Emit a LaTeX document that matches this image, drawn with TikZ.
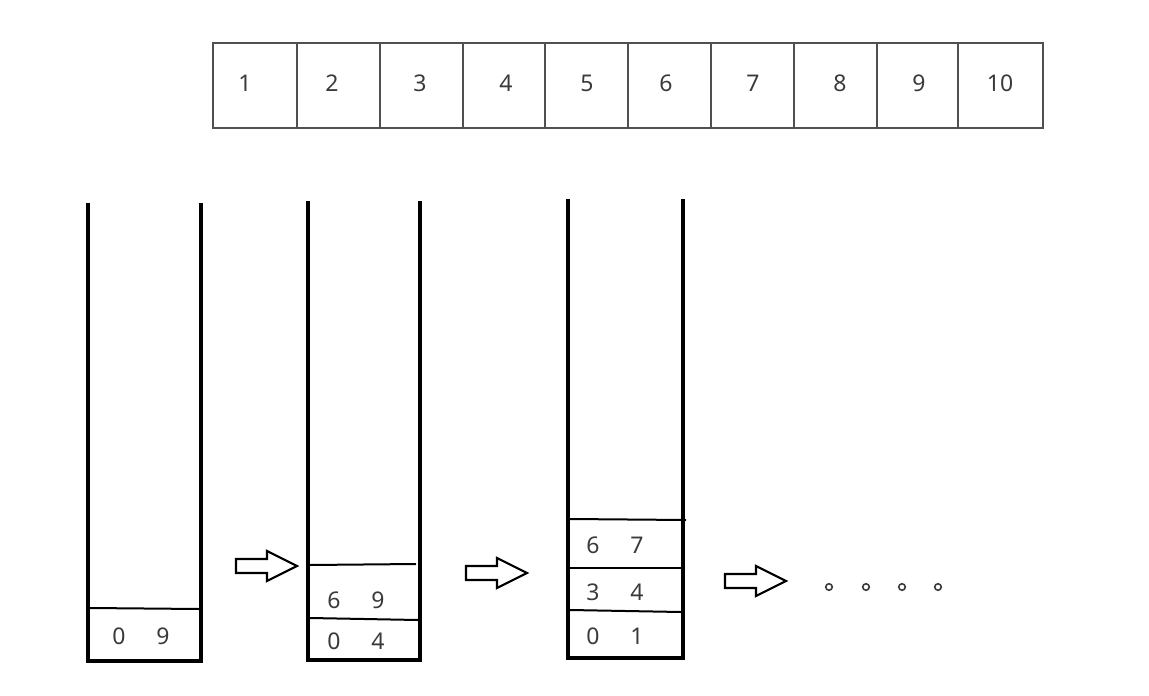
\documentclass[tikz,border=0pt]{standalone}
\usepackage{fontspec}
\setmainfont{Noto Sans}
\definecolor{txt}{HTML}{3A3A3A}
\definecolor{cellline}{HTML}{505050}
\begin{document}
\begin{tikzpicture}[x=1pt,y=-1pt,
  cellline/.style={draw=cellline,line width=2.4pt},
  wall/.style={line width=4pt,line cap=rect},
  sep/.style={line width=2pt},
  num/.style={font=\fontsize{23}{26}\selectfont,text=txt,inner sep=0pt},
  blockarrow/.style={draw,line width=2.2pt,fill=white,line join=miter},
  dotc/.style={draw=txt,line width=1.6pt,circle,minimum size=6.5pt,inner sep=0pt}]
\useasboundingbox (0,0) rectangle (1149,696);
% top array
\foreach \l/\r in {213/297,297/380,380/463,463/545,545/628,628/711,711/794,794/877,877/958,958/1043}{
  \draw[cellline] (\l,43) rectangle (\r,128);
}
\foreach \x/\t [count=\i] in {245/1,332/2,420/3,506/4,587/5,666/6,753/7,840/8,919/9,1000/10}{
  \node[num] (c\i) at (\x,83) {\t};
}
% stack 1
\draw[wall] (88,205) -- (88,661) -- (201,661) -- (201,205);
\draw[sep] (90,608) -- (199,609);
\node[num] (s1a) at (119,636) {0};
\node[num] (s1b) at (163,636) {9};
% stack 2
\draw[wall] (308,203) -- (308,660) -- (420,660) -- (420,203);
\draw[sep] (310,565) -- (416,564);
\draw[sep] (310,618) -- (418,620);
\node[num] (s2a) at (334,600) {6};
\node[num] (s2b) at (378,600) {9};
\node[num] (s2c) at (334,641) {0};
\node[num] (s2d) at (378,641) {4};
% stack 3
\draw[wall] (568,201) -- (568,658) -- (683,658) -- (683,201);
\draw[sep] (570,519) -- (686,520);
\draw[sep] (570,568) -- (681,568);
\draw[sep] (570,610) -- (681,612);
\node[num] (s3a) at (593,545) {6};
\node[num] (s3b) at (637,545) {7};
\node[num] (s3c) at (593,592) {3};
\node[num] (s3d) at (637,592) {4};
\node[num] (s3e) at (593,636) {0};
\node[num] (s3f) at (637,636) {1};
% block arrows
\foreach \x/\y in {236/566,466/573,725/581}{
  \draw[blockarrow] (\x,\y-7) -- (\x+31,\y-7) -- (\x+31,\y-15) -- (\x+61,\y) -- (\x+31,\y+15) -- (\x+31,\y+7) -- (\x,\y+7) -- cycle;
}
% dots
\foreach \x [count=\i] in {829,866,902,938}{
  \node[dotc] (d\i) at (\x,587) {};
}
\end{tikzpicture}
\end{document}
